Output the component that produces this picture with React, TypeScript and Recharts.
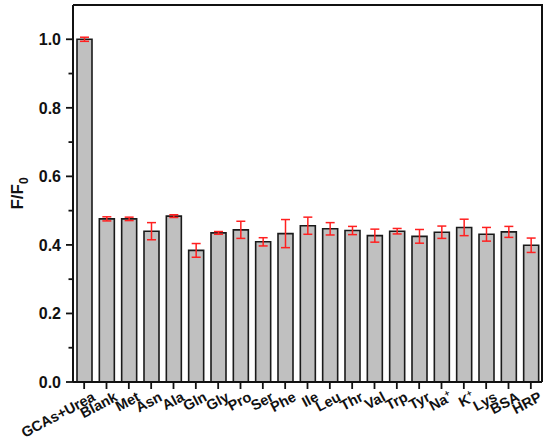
import React from 'react';
import { BarChart, Bar, XAxis, YAxis, ErrorBar } from 'recharts';

const categories = ['GCAs+Urea', 'Blank', 'Met', 'Asn', 'Ala', 'Gln', 'Gly', 'Pro', 'Ser', 'Phe', 'Ile', 'Leu', 'Thr', 'Val', 'Trp', 'Tyr', 'Na+', 'K+', 'Lys', 'BSA', 'HRP'];
const values = [1.0, 0.476, 0.476, 0.44, 0.484, 0.384, 0.435, 0.444, 0.409, 0.433, 0.456, 0.447, 0.442, 0.427, 0.44, 0.425, 0.437, 0.451, 0.431, 0.438, 0.399];
const errors = [0.006, 0.006, 0.005, 0.025, 0.004, 0.02, 0.004, 0.025, 0.012, 0.041, 0.025, 0.018, 0.012, 0.019, 0.008, 0.02, 0.018, 0.024, 0.02, 0.016, 0.021];
const yTicks = [0, 0.1, 0.2, 0.3, 0.4, 0.5, 0.6, 0.7, 0.8, 0.9, 1.0];

const data = categories.map((name, i) => ({ name, value: values[i], err: errors[i] }));

const FONT = "Arial, 'Liberation Sans', sans-serif";
const CHART_W = 550;
const CHART_H = 438;
const MARGIN = { top: 5, right: 8, left: 13, bottom: 0 };
const YAXIS_W = 60;
const XAXIS_H = 56;

const PLOT_LEFT = MARGIN.left + YAXIS_W;
const PLOT_TOP = MARGIN.top;
const PLOT_RIGHT = CHART_W - MARGIN.right;
const PLOT_BOTTOM = CHART_H - MARGIN.bottom - XAXIS_H;

const YTick = (props: any) => {
  const { x, y, payload, index } = props;
  const major = index % 2 === 0;
  return (
    <g>
      <line x1={x - (major ? 7 : 4.5)} y1={y} x2={x} y2={y} stroke="#111" strokeWidth={1.8} />
      {major && (
        <text x={x - 12} y={y} dy="0.36em" textAnchor="end" fontFamily={FONT} fontWeight="bold" fontSize={16} fill="#111">
          {Number(payload.value).toFixed(1)}
        </text>
      )}
    </g>
  );
};

const XTick = (props: any) => {
  const { x, y, payload, index } = props;
  const label: string = String(payload.value);
  const sup = label.endsWith('+') && label.length <= 3;
  const tx = x + 12;
  const ty = y + 18;
  return (
    <g>
      {index === 0 && (
        <path
          d={`M${PLOT_LEFT},${PLOT_TOP} L${PLOT_RIGHT},${PLOT_TOP} L${PLOT_RIGHT},${PLOT_BOTTOM}`}
          fill="none"
          stroke="#111"
          strokeWidth={2}
        />
      )}
      <line x1={x} y1={y} x2={x} y2={y + 7} stroke="#111" strokeWidth={1.8} />
      <text x={tx} y={ty} textAnchor="end" transform={`rotate(-28, ${tx}, ${ty})`} fontFamily={FONT} fontWeight="bold" fontSize={14.5} fill="#111">
        {sup ? (
          <>
            {label.slice(0, -1)}
            <tspan dy={-6} fontSize={9}>+</tspan>
          </>
        ) : label}
      </text>
    </g>
  );
};

const YLabel = () => {
  const cx = MARGIN.left + 10;
  const cy = (PLOT_TOP + PLOT_BOTTOM) / 2;
  return (
    <text x={cx} y={cy} transform={`rotate(-90, ${cx}, ${cy})`} textAnchor="middle" fontFamily={FONT} fontWeight="bold" fontSize={17} fill="#111">
      F/F<tspan dy={5} fontSize={12}>0</tspan>
    </text>
  );
};

export default function App() {
  return (
    <div style={{ position: 'absolute', left: 0, top: 0, width: CHART_W, height: CHART_H, background: '#fff' }}>
      <BarChart width={CHART_W} height={CHART_H} data={data} margin={MARGIN}>
        <XAxis dataKey="name" interval={0} height={XAXIS_H} tickSize={0} tickMargin={0} tickLine={false} tick={<XTick />} axisLine={{ stroke: '#111', strokeWidth: 2 }} />
        <YAxis type="number" domain={[0, 1.1]} ticks={yTicks} interval={0} allowDataOverflow width={YAXIS_W} tickSize={0} tickMargin={0} tickLine={false} tick={<YTick />} axisLine={{ stroke: '#111', strokeWidth: 2 }} label={<YLabel />} />
        <Bar dataKey="value" barSize={15} fill="#c0c0c0" stroke="#1a1a1a" strokeWidth={1.6} isAnimationActive={false}>
          <ErrorBar dataKey="err" direction="y" width={4.5} stroke="#ff2020" strokeWidth={1.5} />
        </Bar>
      </BarChart>
    </div>
  );
}
